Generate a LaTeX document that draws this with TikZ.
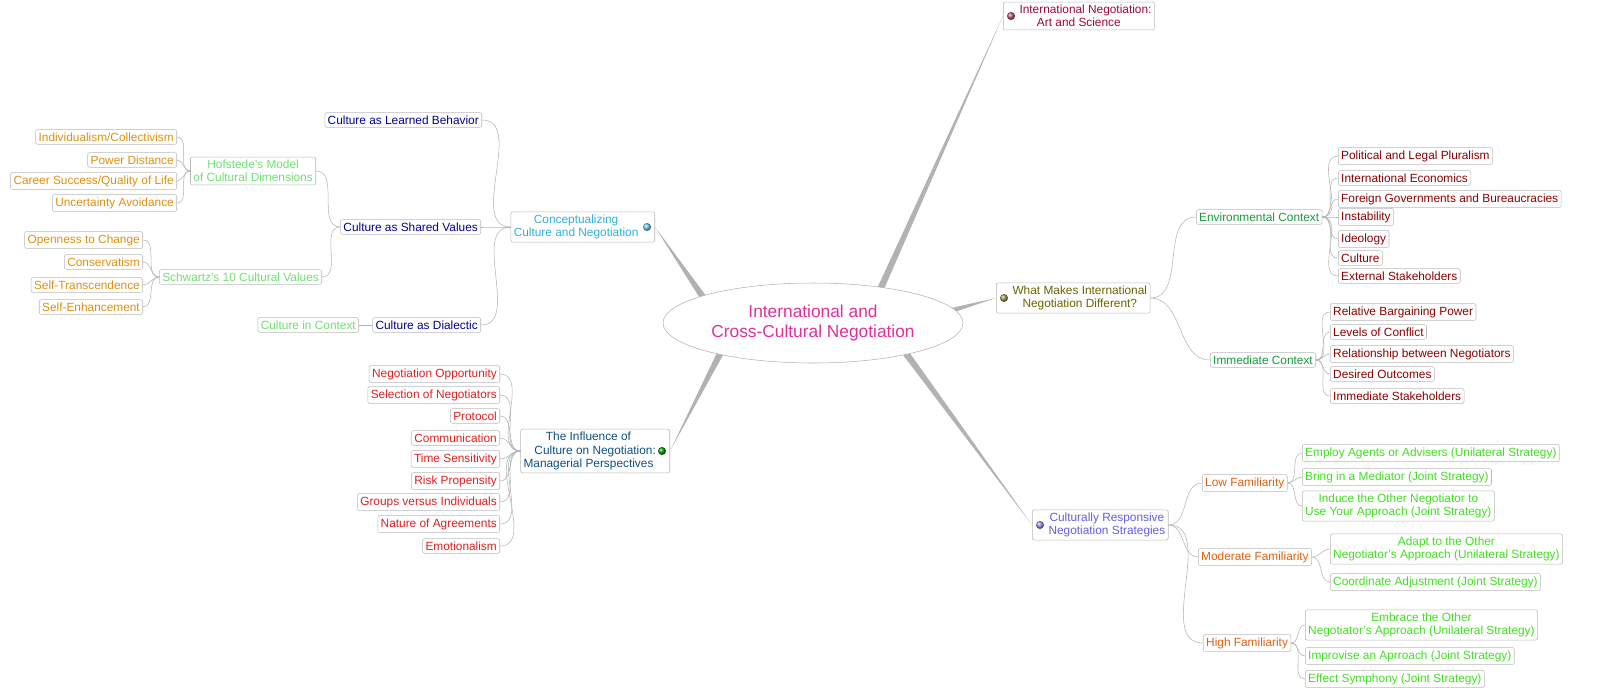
\documentclass[tikz,border=0pt]{standalone}
\usetikzlibrary{shapes.geometric,calc}
\usepackage{fontspec}
\setmainfont{Liberation Sans}
\begin{document}
\begin{tikzpicture}[x=0.75pt,y=-0.75pt,
 bx/.style={draw=gray!55,rounded corners=1.5pt,fill=white,inner sep=2.2pt,align=center,font=\fontsize{8.9}{10}\selectfont},
 L/.style={bx,anchor=east},R/.style={bx,anchor=west},
 ln/.style={draw=gray!60,line width=0.4pt},
 ic/.style={circle,inner sep=0pt,minimum size=6pt,ball color=#1}]
\useasboundingbox (0,0) rectangle (1600,687);
\definecolor{cMag}{HTML}{E0309A}\definecolor{cCrim}{HTML}{A00838}
\definecolor{cOl}{HTML}{6B6400}\definecolor{cGr}{HTML}{189A3A}
\definecolor{cDR}{HTML}{8A0000}\definecolor{cVi}{HTML}{6060E0}
\definecolor{cOr}{HTML}{E06010}\definecolor{cLG}{HTML}{40E020}
\definecolor{cCy}{HTML}{30B0E0}\definecolor{cNv}{HTML}{000090}
\definecolor{cPG}{HTML}{70E070}\definecolor{cOa}{HTML}{E09010}
\definecolor{cTe}{HTML}{105080}\definecolor{cRd}{HTML}{E02020}
\newcommand\taper[2]{\fill[gray!60] ($(#1)!2.5pt!90:(#2)$) -- ($(#1)!2.5pt!-90:(#2)$) -- (#2) -- cycle;}
% level 1
\node[R,text=cCrim] (A) at (1003,16) {\hspace*{10pt}International Negotiation:\\Art and Science};
\node[ic=cCrim!70] (Ai) at (1011,16) {};
\node[R,text=cOl] (W) at (996,298) {\hspace*{10pt}What Makes International\\\hspace*{10pt}Negotiation Different?};
\node[ic=cOl!70] (Wi) at (1004,298) {};
\node[R,text=cVi] (S) at (1032,525) {\hspace*{10pt}Culturally Responsive\\\hspace*{10pt}Negotiation Strategies};
\node[ic=cVi!70] (Si) at (1040,525) {};
\node[L,text=cCy] (K) at (655,227) {Conceptualizing\hspace*{10pt}\\Culture and Negotiation\hspace*{10pt}};
\node[ic=cCy!70] (Ki) at (647,227) {};
\node[L,text=cTe] (I) at (670,451) {The Influence of\hspace*{10pt}\\Culture on Negotiation:\hspace*{10pt}\\Managerial Perspectives\hspace*{10pt}};
\node[ic=green!60!black] (Ii) at (662,451) {};
% center anchors
\coordinate (ca) at (880,290);
\coordinate (cw) at (935,315);
\coordinate (cs) at (905,352);
\coordinate (ck) at (705,300);
\coordinate (ci) at (722,350);
\taper{ca}{A.west}
\taper{cw}{W.west}
\taper{cs}{S.west}
\taper{ck}{K.east}
\taper{ci}{I.east}
% center
\node[draw=gray!60,ellipse,fill=white,minimum width=195pt,minimum height=60pt,text=cMag,align=center,font=\fontsize{13}{15}\selectfont] (C) at (813,323) {International and\\Cross-Cultural Negotiation};
% What makes
\node[R,text=cGr] (E) at (1196,217) {Environmental Context};
\node[R,text=cGr] (M) at (1210,360) {Immediate Context};
\draw[ln] (W.east) to[out=0,in=180] (E.west);
\draw[ln] (W.east) to[out=0,in=180] (M.west);
\foreach \y/\t [count=\i] in {156/{Political and Legal Pluralism},178/{International Economics},199/{Foreign Governments and Bureaucracies},217/{Instability},239/{Ideology},258/{Culture},276/{External Stakeholders}}{
 \node[R,text=cDR] (e\i) at (1338,\y) {\t};
 \draw[ln] (E.east) to[out=0,in=180] (e\i.west);}
\foreach \y/\t [count=\i] in {312/{Relative Bargaining Power},332/{Levels of Conflict},354/{Relationship between Negotiators},374/{Desired Outcomes},396/{Immediate Stakeholders}}{
 \node[R,text=cDR] (m\i) at (1330,\y) {\t};
 \draw[ln] (M.east) to[out=0,in=180] (m\i.west);}
% strategies
\node[R,text=cOr] (Lo) at (1202,483) {Low Familiarity};
\node[R,text=cOr] (Mo) at (1198,557) {Moderate Familiarity};
\node[R,text=cOr] (Hi) at (1203,643) {High Familiarity};
\foreach \n in {Lo,Mo,Hi}{\draw[ln] (S.east) to[out=0,in=180] (\n.west);}
\node[R,text=cLG] (s1) at (1302,453) {Employ Agents or Advisers (Unilateral Strategy)};
\node[R,text=cLG] (s2) at (1302,477) {Bring in a Mediator (Joint Strategy)};
\node[R,text=cLG] (s3) at (1302,506) {Induce the Other Negotiator to\\Use Your Approach (Joint Strategy)};
\node[R,text=cLG] (s4) at (1330,549) {Adapt to the Other\\Negotiator's Approach (Unilateral Strategy)};
\node[R,text=cLG] (s5) at (1330,582) {Coordinate Adjustment (Joint Strategy)};
\node[R,text=cLG] (s6) at (1305,625) {Embrace the Other\\Negotiator's Approach (Unilateral Strategy)};
\node[R,text=cLG] (s7) at (1305,656) {Improvise an Aprroach (Joint Strategy)};
\node[R,text=cLG] (s8) at (1305,679) {Effect Symphony (Joint Strategy)};
\foreach \a/\b in {Lo/s1,Lo/s2,Lo/s3,Mo/s4,Mo/s5,Hi/s6,Hi/s7,Hi/s8}{\draw[ln] (\a.east) to[out=0,in=180] (\b.west);}
% conceptualizing
\node[L,text=cNv] (LB) at (482,120) {Culture as Learned Behavior};
\node[L,text=cNv] (SV) at (481,227) {Culture as Shared Values};
\node[L,text=cNv] (DI) at (481,325) {Culture as Dialectic};
\foreach \n in {LB,SV,DI}{\draw[ln] (K.west) to[out=180,in=0] (\n.east);}
\node[L,text=cPG] (CC) at (359,325) {Culture in Context};
\draw[ln] (DI.west) -- (CC.east);
\node[L,text=cPG] (HO) at (316,171) {Hofstede's Model\\of Cultural Dimensions};
\node[L,text=cPG] (SC) at (322,277) {Schwartz's 10 Cultural Values};
\draw[ln] (SV.west) to[out=180,in=0] (HO.east);
\draw[ln] (SV.west) to[out=180,in=0] (SC.east);
\foreach \y/\t [count=\i] in {137/{Individualism/Collectivism},160/{Power Distance},181/{Career Success/Quality of Life},203/{Uncertainty Avoidance}}{
 \node[L,text=cOa] (h\i) at (177,\y) {\t};
 \draw[ln] (HO.west) to[out=180,in=0] (h\i.east);}
\foreach \y/\t [count=\i] in {240/{Openness to Change},262/{Conservatism},285/{Self-Transcendence},307/{Self-Enhancement}}{
 \node[L,text=cOa] (w\i) at (143,\y) {\t};
 \draw[ln] (SC.west) to[out=180,in=0] (w\i.east);}
% influence
\foreach \y/\t [count=\i] in {374/{Negotiation Opportunity},395/{Selection of Negotiators},416/{Protocol},438/{Communication},459/{Time Sensitivity},481/{Risk Propensity},502/{Groups versus Individuals},524/{Nature of Agreements},546/{Emotionalism}}{
 \node[L,text=cRd] (r\i) at (500,\y) {\t};
 \draw[ln] (I.west) to[out=180,in=0] (r\i.east);}
\end{tikzpicture}
\end{document}
